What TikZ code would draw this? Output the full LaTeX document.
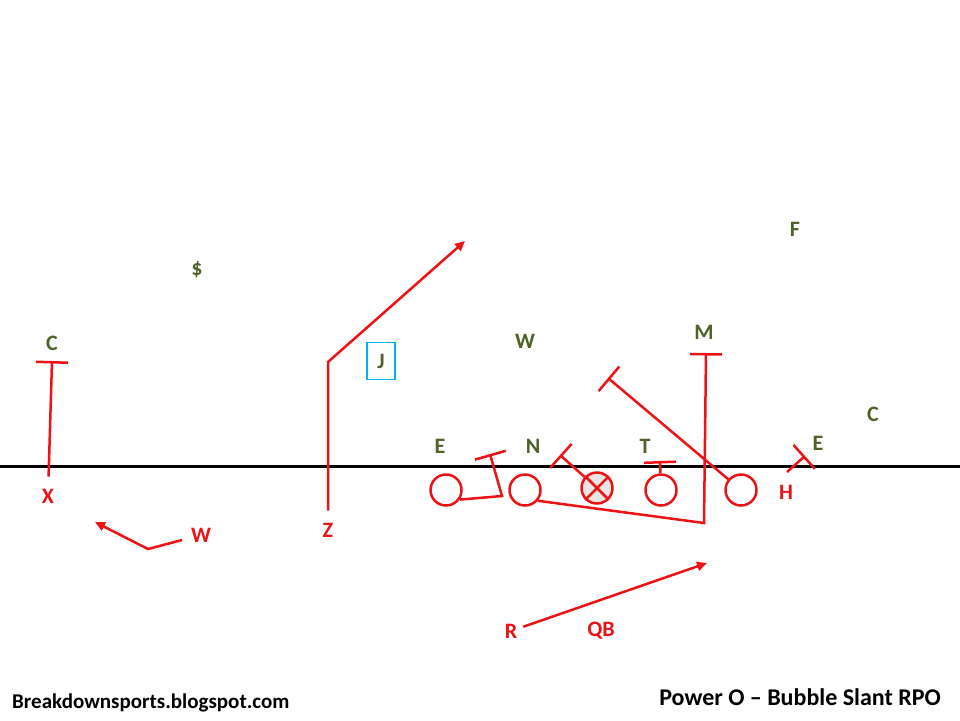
\documentclass[tikz,border=0pt]{standalone}
\usepackage{fontspec}
\setmainfont{Carlito}
\usetikzlibrary{arrows.meta}
\definecolor{pred}{RGB}{236,18,22}
\definecolor{dgreen}{RGB}{79,98,40}
\definecolor{jblue}{RGB}{0,176,240}
\definecolor{cgray}{RGB}{232,230,226}
\tikzset{
 off/.style={font=\bfseries\fontsize{22}{26}\selectfont,text=pred,inner sep=2pt},
 def/.style={font=\bfseries\fontsize{22}{26}\selectfont,text=dgreen,inner sep=2pt},
 man/.style={draw=pred,circle,line width=2.5pt,minimum size=31pt,inner sep=0pt},
 route/.style={draw=pred,line width=2.5pt},
 block/.style={route,-{Bar[width=32pt]}},
 run/.style={route,-{Triangle[length=10pt,width=9pt]}}
}
\begin{document}
\begin{tikzpicture}[x=1pt,y=-1pt]
 \useasboundingbox (0,0) rectangle (960,720);
 \draw[line width=3pt] (0,466) -- (960,466);

 \node[man](1) at (446,490){};
 \node[man](2) at (525,490){};
 \node[man,fill=cgray](3) at (597,488){};
 \node[man](4) at (661,490){};
 \node[man](5) at (741,490){};
 \draw[route] (3.45) -- (3.225);
 \draw[route] (3.135) -- (3.315);

 \node[off](x) at (48,496){X};
 \node[off](w) at (201,535){W};
 \node[off](z) at (328,530){Z};
 \node[off](h) at (786,492){H};
 \node[off](r) at (511,631){R};
 \node[off](qb) at (601,631){QB};

 \node[def](c1) at (52,343){C};
 \node[def](ss) at (197,270){\$};
 \node[def,draw=jblue,line width=1.5pt,minimum width=28pt,minimum height=37pt](j) at (381,361){J};
 \node[def](wl) at (525,341){W};
 \node[def](e1) at (440,446){E};
 \node[def](n) at (533,446){N};
 \node[def](t) at (645,446){T};
 \node[def](m) at (704,332){M};
 \node[def](f) at (795,229){F};
 \node[def](c2) at (873,414){C};
 \node[def](e2) at (818,443){E};

 \coordinate (xb) at (52,361);
 \coordinate (wc) at (148,549);
 \coordinate (wa) at (95,522);
 \coordinate (zc) at (328,362);
 \coordinate (za) at (465,241);
 \coordinate (ra) at (707,563);
 \coordinate (lta) at (502,496);
 \coordinate (ltb) at (490,454);
 \coordinate (mc) at (704,523);
 \coordinate (mb) at (706,353);
 \coordinate (cb) at (560,455);
 \coordinate (tb) at (660,461);
 \coordinate (rtb) at (608,378);
 \coordinate (h0) at (787,472);
 \coordinate (hb) at (805,456);

 \draw[block,shorten <=10pt] (x) -- (xb);
 \draw[run,shorten <=7pt] (w) -- (wc) -- (wa);
 \draw[run,shorten <=10pt] (z) -- (zc) -- (za);
 \draw[run,shorten <=4pt] (r) -- (ra);

 \draw[block] (1.325) -- (lta) -- (ltb);
 \draw[block] (2.320) -- (mc) -- (mb);
 \draw[block] (3) -- (cb);
 \draw[block] (4) -- (tb);
 \draw[block] (5) -- (rtb);
 \draw[block] (h0) -- (hb);

 \node[font=\bfseries\fontsize{21}{25}\selectfont,inner sep=0pt,anchor=base west](site) at (12,708){Breakdownsports.blogspot.com};
 \node[font=\bfseries\fontsize{24}{28}\selectfont,inner sep=0pt,anchor=base east](title) at (941,705){Power O -- Bubble Slant RPO};
\end{tikzpicture}
\end{document}
